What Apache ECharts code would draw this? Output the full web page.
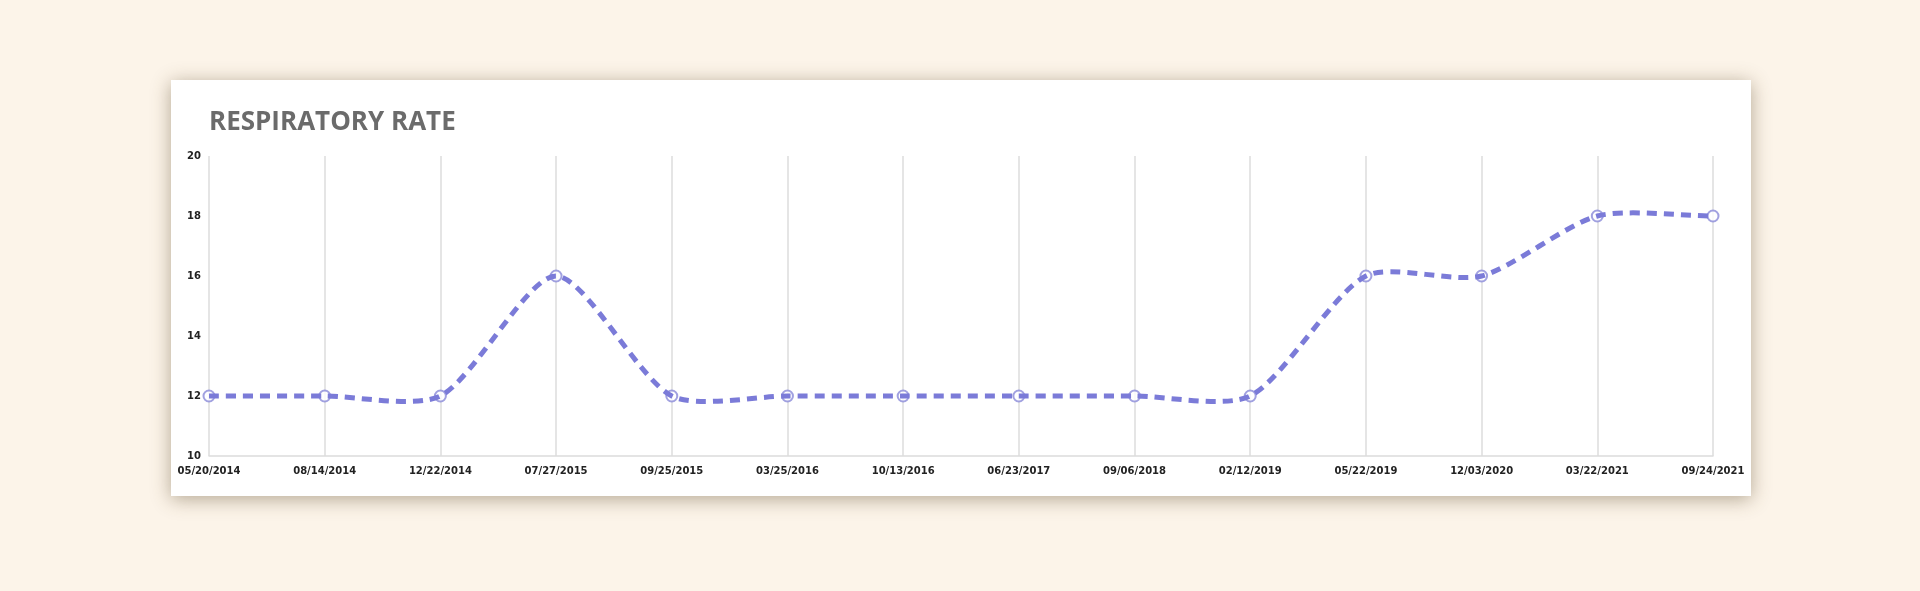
<!DOCTYPE html>
<html>
<head>
<meta charset="utf-8">
<script src="https://cdn.jsdelivr.net/npm/echarts@6/dist/echarts.min.js"></script>
<style>
html, body { margin: 0; padding: 0; background: #fcf4e9; }
#card {
    position: absolute; left: 171px; top: 80px; width: 1580px; height: 416px;
    background: #fff;
    box-shadow: 0 3px 18px rgba(90, 70, 40, 0.45);
}
#main { width: 1580px; height: 416px; }
</style>
</head>
<body>
<div id="card"><div id="main"></div></div>
<script>
var dates = ['05/20/2014', '08/14/2014', '12/22/2014', '07/27/2015', '09/25/2015', '03/25/2016',
    '10/13/2016', '06/23/2017', '09/06/2018', '02/12/2019', '05/22/2019', '12/03/2020',
    '03/22/2021', '09/24/2021'];
var rates = [12, 12, 12, 16, 12, 12, 12, 12, 12, 12, 16, 16, 18, 18];
var yTicks = [10, 12, 14, 16, 18, 20];

var tension = 0.25;

// spline through the points, control points from neighbours (overshoots a bit like the original)
function renderCurve(params, api) {
    if (params.dataIndex !== 0) return null;
    var pts = [];
    for (var i = 0; i < rates.length; i++) {
        pts.push(api.coord([i, rates[i]]));
    }
    var cpPrev = [], cpNext = [];
    for (var i = 0; i < pts.length; i++) {
        var prev = pts[i - 1] || pts[i];
        var cur = pts[i];
        var next = pts[i + 1] || pts[i];
        var d01 = Math.hypot(cur[0] - prev[0], cur[1] - prev[1]);
        var d12 = Math.hypot(next[0] - cur[0], next[1] - cur[1]);
        var s01 = d01 / (d01 + d12) || 0;
        var s12 = d12 / (d01 + d12) || 0;
        var fa = tension * s01, fb = tension * s12;
        var vx = next[0] - prev[0], vy = next[1] - prev[1];
        cpPrev.push([cur[0] - fa * vx, cur[1] - fa * vy]);
        cpNext.push([cur[0] + fb * vx, cur[1] + fb * vy]);
    }
    var d = 'M' + pts[0][0] + ' ' + pts[0][1];
    for (var i = 1; i < pts.length; i++) {
        d += ' C' + cpNext[i - 1][0] + ' ' + cpNext[i - 1][1] + ' ' +
            cpPrev[i][0] + ' ' + cpPrev[i][1] + ' ' + pts[i][0] + ' ' + pts[i][1];
    }
    return {
        type: 'path',
        shape: { pathData: d },
        style: { fill: 'none', stroke: '#7b7bd8', lineWidth: 5, lineDash: [10, 7] }
    };
}

var myChart = echarts.init(document.getElementById('main'));
var option = {
    animation: false,
    title: {
        text: 'RESPIRATORY RATE',
        left: 33,
        top: 25,
        textStyle: { fontFamily: 'Open Sans', fontWeight: 'bold', fontSize: 26, color: '#6b6b6b' }
    },
    grid: { left: 38, right: 38, top: 76, bottom: 40 },
    xAxis: {
        type: 'category',
        data: dates,
        boundaryGap: false,
        axisLine: { lineStyle: { color: '#dcdcdc', width: 1.5 } },
        axisTick: { show: false },
        splitLine: { show: true, lineStyle: { color: '#dcdcdc', width: 1.5 } },
        axisLabel: { color: '#222', fontSize: 10, fontWeight: 'bold', fontFamily: 'DejaVu Sans', margin: 10 }
    },
    yAxis: {
        type: 'value',
        min: yTicks[0],
        max: yTicks[yTicks.length - 1],
        interval: 2,
        axisLine: { show: false },
        axisTick: { show: false },
        splitLine: { show: false },
        axisLabel: { color: '#222', fontSize: 10, fontWeight: 'bold', fontFamily: 'DejaVu Sans', margin: 8 }
    },
    series: [{
        type: 'scatter',
        data: rates,
        z: 1,
        symbol: 'emptyCircle',
        symbolSize: 11,
        itemStyle: { color: '#8a8ad8', borderWidth: 1.2 }
    }, {
        type: 'custom',
        data: rates,
        z: 2,
        renderItem: renderCurve
    }]
};
myChart.setOption(option);
</script>
</body>
</html>
